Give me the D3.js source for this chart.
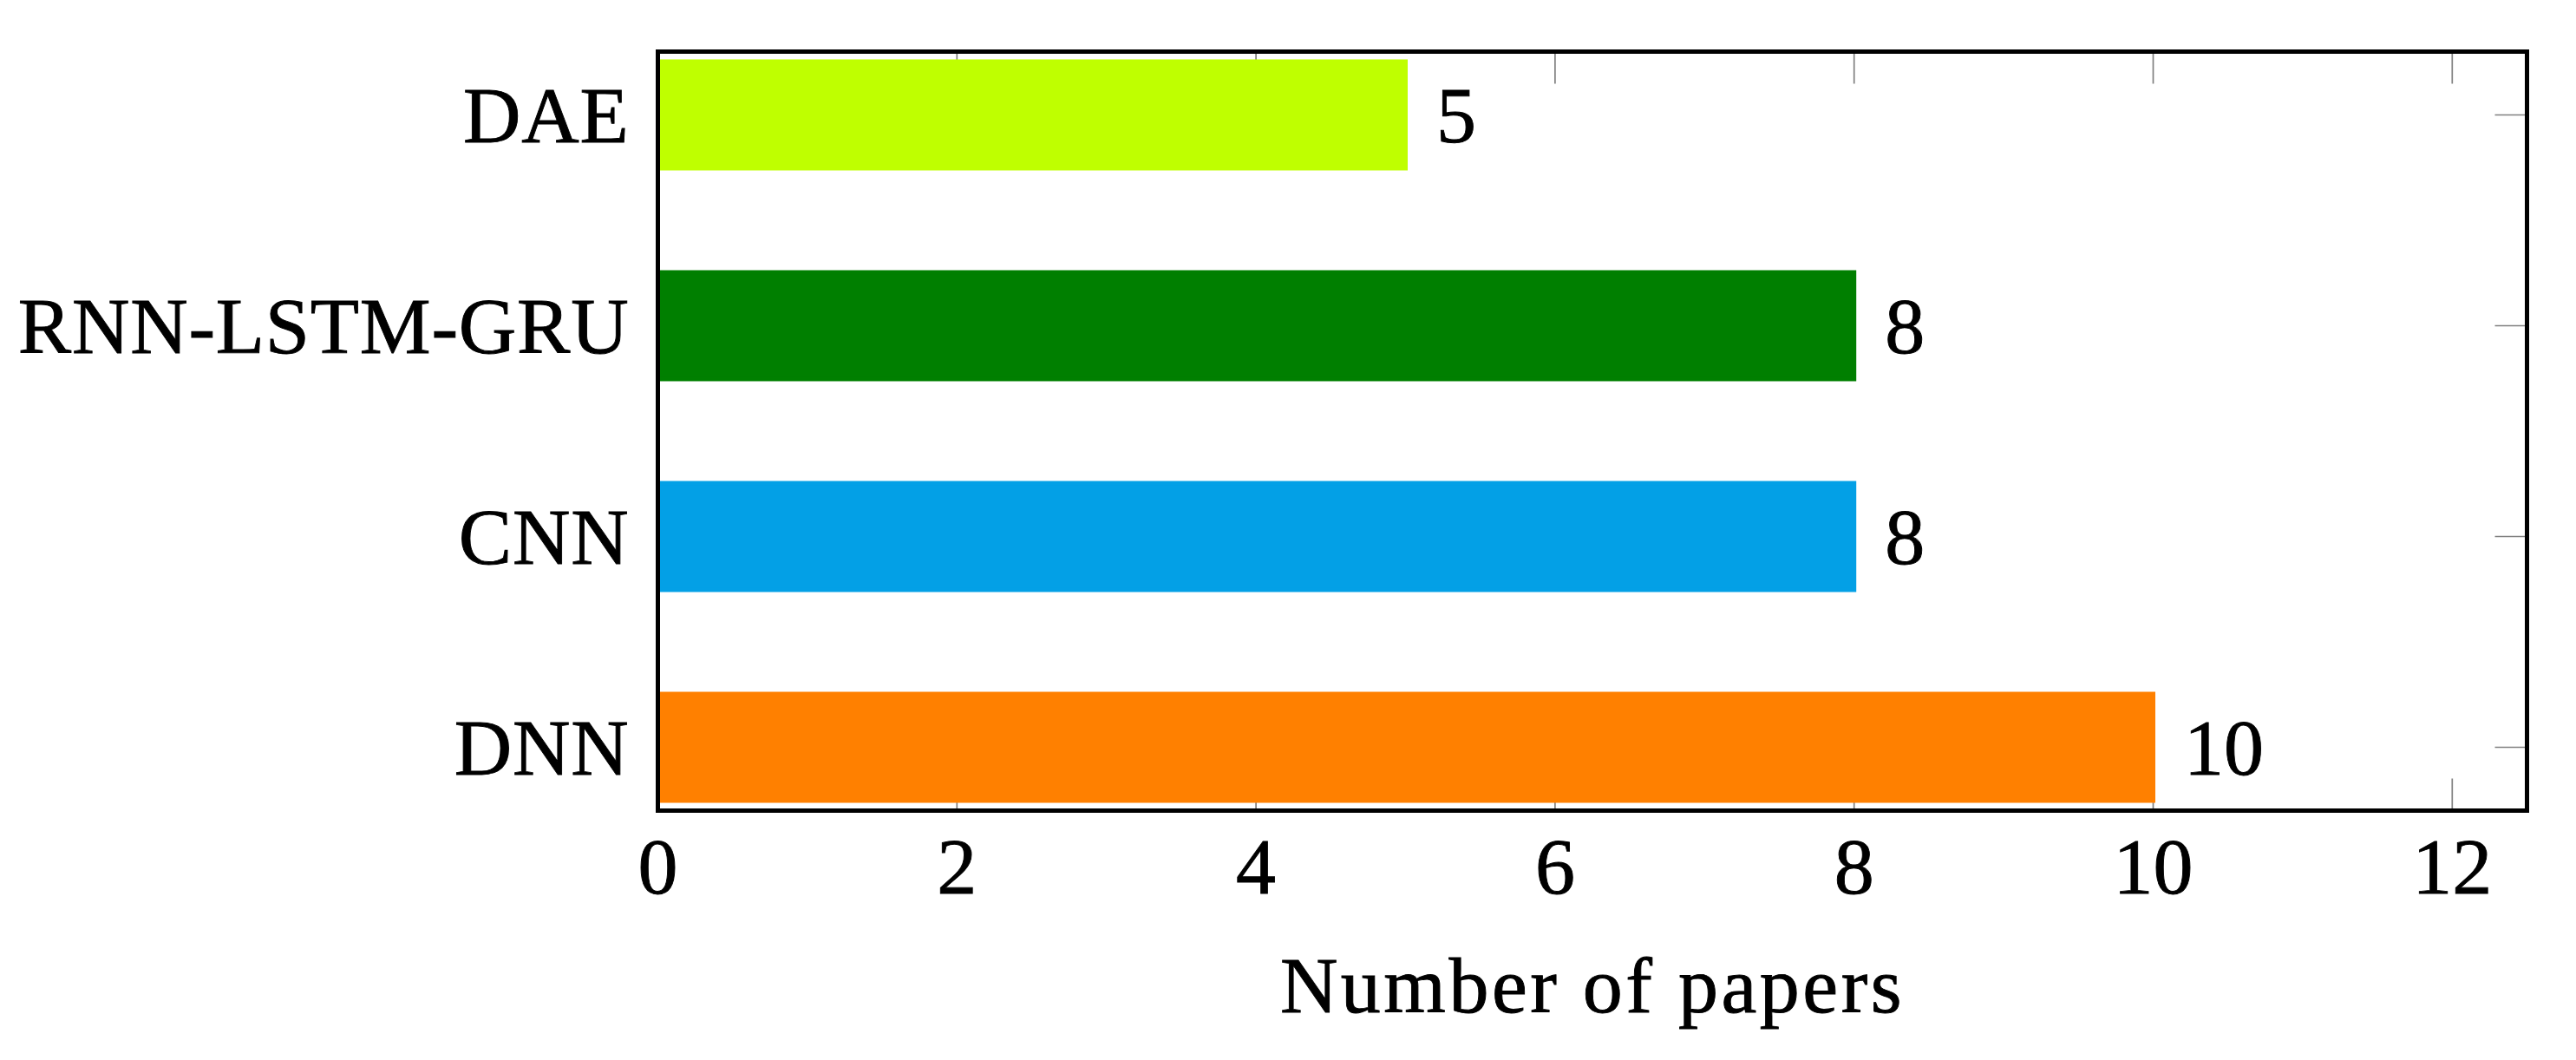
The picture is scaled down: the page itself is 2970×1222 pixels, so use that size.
<!DOCTYPE html>
<html>
<head>
<meta charset="utf-8">
<script src="https://cdn.jsdelivr.net/npm/d3@7"></script>
<style>
  html, body { margin: 0; padding: 0; background: #ffffff; }
  svg { display: block; }
  text { font-family: "Liberation Serif", "DejaVu Serif", serif; fill: #000; stroke: #000; stroke-width: 0.9px; }
</style>
</head>
<body>
<svg id="chart" width="2970" height="1222"></svg>
<script>
// ---- data ----
const categories = ["DAE", "RNN-LSTM-GRU", "CNN", "DNN"];
const values = [5, 8, 8, 10];
const colors = ["#bfff00", "#007f00", "#03a0e6", "#ff8000"];
const xTicks = [0, 2, 4, 6, 8, 10, 12];
const xTickLabels = ["0", "2", "4", "6", "8", "10", "12"];
const xLabel = "Number of papers";
const xMax = 12.5;

(function () {
  // ---- layout ----
  const pLeft = 758.5, pRight = 2913.5, pTop = 59.5, pBottom = 934.5;
  const fontSize = 92;
  const tickLen = 37;
  const barStroke = 5;

  const svg = d3.select("#chart");

  const x = d3.scaleLinear().domain([0, xMax]).range([pLeft, pRight]);
  const y = d3.scaleBand().domain(categories).range([pTop, pBottom])
    .paddingInner(0.4733).paddingOuter(0.037);
  const yc = d => y(d) + y.bandwidth() / 2;

  // ticks (drawn beneath bars), inward on all four sides
  const tickG = svg.append("g").attr("stroke", "#808080").attr("stroke-width", 1.7);
  tickG.selectAll("line.xb").data(xTicks).join("line")
    .attr("class", "xb")
    .attr("x1", d => x(d)).attr("x2", d => x(d))
    .attr("y1", pBottom).attr("y2", pBottom - tickLen);
  tickG.selectAll("line.xt").data(xTicks).join("line")
    .attr("class", "xt")
    .attr("x1", d => x(d)).attr("x2", d => x(d))
    .attr("y1", pTop).attr("y2", pTop + tickLen);
  tickG.selectAll("line.yl").data(categories).join("line")
    .attr("class", "yl")
    .attr("x1", pLeft).attr("x2", pLeft + tickLen)
    .attr("y1", yc).attr("y2", yc);
  tickG.selectAll("line.yr").data(categories).join("line")
    .attr("class", "yr")
    .attr("x1", pRight).attr("x2", pRight - tickLen)
    .attr("y1", yc).attr("y2", yc);

  // bars
  const data = categories.map((c, i) => ({ c, v: values[i], col: colors[i] }));
  svg.append("g").selectAll("rect").data(data).join("rect")
    .attr("x", x(0))
    .attr("y", d => y(d.c) + barStroke / 2)
    .attr("width", d => x(d.v) - x(0))
    .attr("height", y.bandwidth() - barStroke)
    .attr("fill", d => d.col)
    .attr("stroke", d => d.col)
    .attr("stroke-width", barStroke);

  // value labels
  svg.append("g").selectAll("text").data(data).join("text")
    .attr("x", d => x(d.v) + barStroke / 2 + 33)
    .attr("y", d => yc(d.c) + 31.5)
    .attr("font-size", fontSize)
    .attr("text-anchor", "start")
    .text(d => d.v);

  // frame
  svg.append("rect")
    .attr("x", pLeft).attr("y", pTop)
    .attr("width", pRight - pLeft).attr("height", pBottom - pTop)
    .attr("fill", "none").attr("stroke", "#000").attr("stroke-width", 5);

  // category labels
  svg.append("g").selectAll("text").data(categories).join("text")
    .attr("x", pLeft - 33)
    .attr("y", d => yc(d) + 31.5)
    .attr("font-size", fontSize)
    .attr("text-anchor", "end")
    .attr("letter-spacing", 0.8)
    .text(d => d);

  // x tick labels
  svg.append("g").selectAll("text").data(xTicks).join("text")
    .attr("x", d => x(d))
    .attr("y", 1030)
    .attr("font-size", fontSize)
    .attr("text-anchor", "middle")
    .text((d, i) => xTickLabels[i]);

  // x axis title
  svg.append("text")
    .attr("x", (pLeft + pRight) / 2)
    .attr("y", 1167)
    .attr("font-size", fontSize)
    .attr("text-anchor", "middle")
    .attr("letter-spacing", 3.5)
    .text(xLabel);
})();
</script>
</body>
</html>
